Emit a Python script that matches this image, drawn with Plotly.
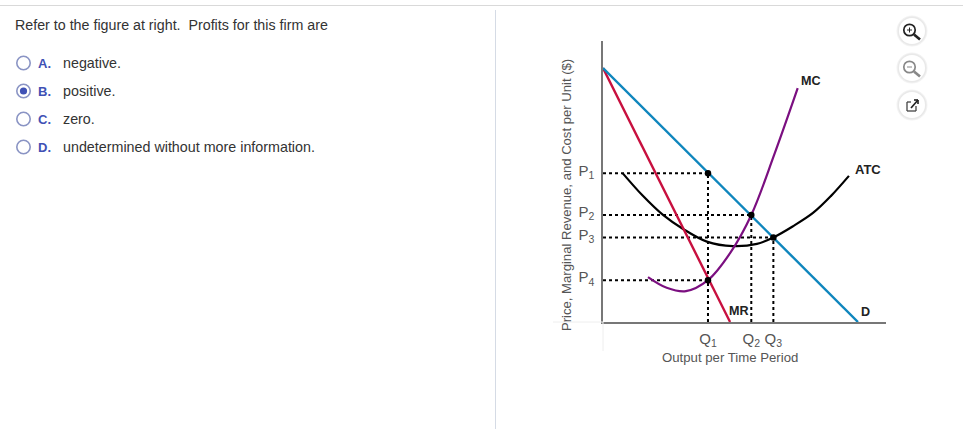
import plotly.graph_objects as go

W, H = 963, 429

# values (axes run 0-100)
q_labels = ["Q<sub>1</sub>", "Q<sub>2</sub>", "Q<sub>3</sub>"]
q_vals = [37.1, 52.4, 60.2]
p_labels = ["P<sub>1</sub>", "P<sub>2</sub>", "P<sub>3</sub>", "P<sub>4</sub>"]
p_vals = [52.9, 38.1, 30.1, 14.9]

demand_x = [0, 90.1]
demand_y = [90.4, 0]
mr_x = [0, 44.9]
mr_y = [90.4, 0]
mc_x = [15.9, 22.5, 29.3, 37.1, 44.9, 52.4, 60.6, 68.8]
mc_y = [16.0, 12.2, 11.0, 14.9, 24.5, 38.1, 59.8, 83.2]
atc_x = [7.0, 14.0, 21.2, 28.3, 36.7, 45.9, 54.4, 60.2, 67.0, 74.2, 80.5, 86.9]
atc_y = [52.9, 45.0, 38.1, 33.1, 28.6, 27.0, 27.8, 30.1, 34.0, 38.8, 44.8, 52.0]

# the dotted guides end on these (Q index, P index)
guides = [(0, 0), (1, 1), (2, 2), (0, 3)]

question = "Refer to the figure at right.  Profits for this firm are"
choice_letters = ["A.", "B.", "C.", "D."]
choice_texts = ["negative.", "positive.", "zero.", "undetermined without more information."]
selected = 1

FONT = "Liberation Sans"
GREY = "#555555"


def px(x):
    return x / W


def py(y):
    return 1 - y / H


def circle(cx, cy, r, **kw):
    return dict(type="circle", xref="paper", yref="paper", x0=px(cx - r), x1=px(cx + r),
                y0=py(cy + r), y1=py(cy - r), **kw)


def seg(x0, y0, x1, y1, color, width=1):
    return dict(type="line", xref="paper", yref="paper", x0=px(x0), y0=py(y0), x1=px(x1), y1=py(y1),
                line=dict(color=color, width=width))


fig = go.Figure()

# dotted guides first so the curves sit on top
for qi, pi in guides:
    fig.add_trace(go.Scatter(x=[0, q_vals[qi]], y=[p_vals[pi], p_vals[pi]], mode="lines",
                             line=dict(color="black", width=2, dash="dot")))
    fig.add_trace(go.Scatter(x=[q_vals[qi], q_vals[qi]], y=[0, p_vals[pi]], mode="lines",
                             line=dict(color="black", width=2, dash="dot")))

fig.add_trace(go.Scatter(x=atc_x, y=atc_y, mode="lines", line=dict(color="black", width=2.2, shape="spline")))
fig.add_trace(go.Scatter(x=mr_x, y=mr_y, mode="lines", line=dict(color="#c8103f", width=2.4)))
fig.add_trace(go.Scatter(x=demand_x, y=demand_y, mode="lines", line=dict(color="#0f86bd", width=2.4)))
fig.add_trace(go.Scatter(x=mc_x, y=mc_y, mode="lines", line=dict(color="#7b0f80", width=2.2, shape="spline")))
fig.add_trace(go.Scatter(x=[q_vals[q] for q, p in guides], y=[p_vals[p] for q, p in guides], mode="markers",
                         marker=dict(color="black", size=6.5)))

shapes = [
    seg(0, 5.5, 963, 5.5, "#d9d9d9"),
    seg(495.5, 10, 495.5, 429, "#d5dbe5"),
    seg(553, 322, 603, 322, "#eeeeee"),
    seg(603, 322, 603, 351, "#eeeeee"),
]
annotations = []


def text(x, y, s, size=12.5, color="#333333", bold=False, anchor="left", angle=0):
    # annotations pad their box by about 2px
    if anchor == "left":
        x -= 2
    annotations.append(dict(xref="paper", yref="paper", x=px(x), y=py(y), text=f"<b>{s}</b>" if bold else s,
                            showarrow=False, xanchor=anchor, yanchor="middle", textangle=angle,
                            font=dict(family=FONT, size=size, color=color)))


text(15, 25, question, size=14.25)
for i, (letter, choice) in enumerate(zip(choice_letters, choice_texts)):
    y = 63 + 28 * i
    shapes.append(circle(23.5, y, 6.7, line=dict(color="#8a94c4", width=1.6), fillcolor="white"))
    if i == selected:
        shapes.append(circle(23.5, y, 3.6, line=dict(width=0), fillcolor="#3f51b5"))
    text(38, y, letter, size=13, color="#3f51b5", bold=True)
    text(63, y, choice, size=14.3)

text(566, 195, "Price, Marginal Revenue, and Cost per Unit ($)", size=13.1, color=GREY, anchor="center", angle=-90)
text(730, 357, "Output per Time Period", size=13.2, color=GREY, anchor="center")
text(811, 81, "MC", size=12.6, color="#222222", bold=True, anchor="center")
text(868, 169, "ATC", size=13, color="#222222", bold=True, anchor="center")
text(739, 311, "MR", size=12.6, color="#222222", bold=True, anchor="center")
text(865, 312, "D", size=12.6, color="#222222", bold=True, anchor="center")

# zoom in / zoom out / pop-out buttons
for cy in (31, 68, 105):
    shapes.append(circle(912, cy, 15.5, line=dict(width=0), fillcolor="#f3f3f3"))
    shapes.append(circle(912, cy, 14.5, line=dict(width=0), fillcolor="#e9e9e9"))
    shapes.append(circle(912, cy, 13, line=dict(width=0), fillcolor="white"))
shapes += [
    circle(909.5, 30, 5.7, line=dict(color="#222222", width=1.7), fillcolor="white"),
    seg(914, 34.5, 920, 39.5, "#222222", 2.6),
    seg(907, 30, 912, 30, "#222222"),
    seg(909.5, 27.5, 909.5, 32.5, "#222222"),
    circle(909.5, 67, 5.7, line=dict(color="#888888", width=1.7), fillcolor="white"),
    seg(914, 71.5, 920, 76.5, "#888888", 2.6),
    seg(907, 67, 912, 67, "#888888"),
    seg(907, 102, 907, 111, "#444444", 1.3),
    seg(907, 111, 916, 111, "#444444", 1.3),
    seg(916, 111, 916, 106, "#444444", 1.3),
    seg(907, 102, 911, 102, "#444444", 1.3),
    seg(911, 108, 918, 100, "#222222", 1.6),
    seg(914, 100, 918, 100, "#222222", 1.6),
    seg(918, 100, 918, 104, "#222222", 1.6),
]

fig.update_layout(
    width=W, height=H, margin=dict(l=0, r=0, t=0, b=0), showlegend=False,
    paper_bgcolor="white", plot_bgcolor="white", shapes=shapes, annotations=annotations,
    xaxis=dict(domain=[603 / W, 886 / W], range=[0, 100], showgrid=False, zeroline=False,
               showline=True, linecolor="#777777", linewidth=1.5, ticks="outside", ticklen=2,
               tickcolor="rgba(0,0,0,0)", tickvals=q_vals, ticktext=q_labels,
               tickfont=dict(family=FONT, size=15, color=GREY)),
    yaxis=dict(domain=[1 - 322 / H, 1 - 41 / H], range=[0, 100], showgrid=False, zeroline=False,
               showline=True, linecolor="#777777", linewidth=1.5, ticks="outside", ticklen=4,
               tickcolor="rgba(0,0,0,0)", tickvals=p_vals, ticktext=p_labels, ticklabelshift=-3,
               tickfont=dict(family=FONT, size=15, color=GREY)),
)

fig.write_html("out.html", config=dict(displayModeBar=False),
               post_script="document.body.style.margin='0';document.body.style.overflow='hidden';")
